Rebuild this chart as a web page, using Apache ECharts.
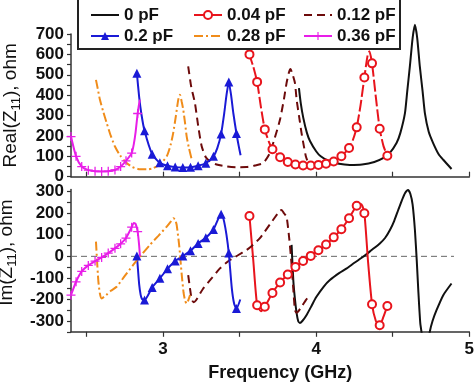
<!DOCTYPE html>
<html><head><meta charset="utf-8">
<script src="https://cdn.jsdelivr.net/npm/echarts@6/dist/echarts.min.js"></script>
<style>html,body{margin:0;padding:0;background:#fff}#c{width:474px;height:383px}</style>
</head><body><div id="c"></div>
<script>
const FONT = '"Liberation Sans", Arial, sans-serif';

// ---- axis ticks / labels ----
const xTickValues = [2.5, 3, 3.5, 4, 4.5, 5];
const xLabelValues = [3, 4, 5];
const reTickValues = [0, 50, 100, 150, 200, 250, 300, 350, 400, 450, 500, 550, 600, 650, 700];
const reLabelValues = [0, 100, 200, 300, 400, 500, 600, 700];
const imTickValues = [-350, -300, -250, -200, -150, -100, -50, 0, 50, 100, 150, 200, 250, 300];
const imLabelValues = [-300, -200, -100, 0, 100, 200, 300];
const names = ['0 pF', '0.04 pF', '0.12 pF', '0.2 pF', '0.28 pF', '0.36 pF'];

// ---- 0 pF ----
const f0Re = [3.888, 3.90, 3.916, 3.94, 3.96, 4.00, 4.03, 4.08, 4.15, 4.22, 4.30, 4.38, 4.44, 4.48, 4.525, 4.55, 4.58, 4.595, 4.612, 4.63, 4.645, 4.66, 4.677, 4.695, 4.71, 4.735, 4.764, 4.80, 4.83, 4.884];
const re0 = [435, 360, 290, 215, 175, 125, 100, 78, 63, 58, 60, 72, 92, 116, 165, 215, 312, 420, 541, 680, 745, 680, 541, 420, 312, 220, 165, 110, 83, 38];
const f0Im = [3.84, 3.851, 3.862, 3.873, 3.883, 3.894, 3.91, 3.937, 3.97, 4.00, 4.05, 4.09, 4.15, 4.20, 4.25, 4.307, 4.36, 4.416, 4.45, 4.482, 4.51, 4.536, 4.56, 4.58, 4.60, 4.615, 4.63, 4.645, 4.657, 4.667, 4.68, 4.69, 4.70, 4.715, 4.73, 4.742, 4.76, 4.786, 4.83, 4.884];
const im0 = [53, -110, -200, -265, -300, -309, -300, -273, -230, -190, -140, -110, -78, -56, -30, -2, 28, 60, 85, 122, 165, 215, 260, 293, 308, 290, 240, 122, -20, -157, -310, -360, -420, -450, -410, -350, -300, -250, -180, -126];

// ---- 0.04 pF ----
const f04Re = [3.555, 3.565, 3.59, 3.615, 3.64, 3.665, 3.69, 3.715, 3.765, 3.815, 3.865, 3.915, 3.965, 4.015, 4.065, 4.115, 4.165, 4.215, 4.24, 4.265, 4.29, 4.315, 4.335, 4.348, 4.365, 4.39, 4.415, 4.44, 4.465];
const re04 = [680, 600, 540, 465, 340, 232, 175, 135, 95, 72, 60, 55, 55, 58, 64, 75, 100, 141, 180, 242, 350, 487, 590, 615, 556, 390, 235, 150, 103];
const f04Im = [3.565, 3.59, 3.615, 3.64, 3.665, 3.715, 3.765, 3.815, 3.865, 3.915, 3.965, 4.015, 4.065, 4.115, 4.165, 4.215, 4.265, 4.295, 4.315, 4.34, 4.365, 4.39, 4.415, 4.44, 4.465];
const im04 = [187, -20, -227, -255, -234, -170, -121, -84, -49, -22, 2, 28, 55, 88, 126, 177, 235, 242, 200, -33, -222, -300, -320, -280, -230];
const marks04 = [3.565, 3.615, 3.665, 3.715, 3.765, 3.815, 3.865, 3.915, 3.965, 4.015, 4.065, 4.115, 4.165, 4.215, 4.265, 4.315, 4.365, 4.415, 4.465];

// ---- 0.12 pF ----
const f12Re = [3.165, 3.185, 3.209, 3.23, 3.253, 3.28, 3.307, 3.35, 3.416, 3.48, 3.546, 3.60, 3.655, 3.698, 3.73, 3.764, 3.79, 3.807, 3.822, 3.833, 3.845, 3.862, 3.873, 3.89, 3.905, 3.92, 3.933, 3.942];
const re12 = [541, 440, 361, 250, 149, 95, 75, 60, 50, 46, 47, 55, 67, 116, 190, 279, 380, 459, 510, 528, 505, 459, 377, 290, 214, 150, 100, 80];
const f12Im = [3.165, 3.177, 3.188, 3.20, 3.215, 3.263, 3.32, 3.372, 3.437, 3.49, 3.546, 3.59, 3.633, 3.70, 3.764, 3.775, 3.79, 3.807, 3.825, 3.84, 3.852, 3.862, 3.873, 3.905, 3.933, 3.942];
const im12 = [-87, -150, -200, -213, -205, -149, -100, -56, -17, 5, 29, 55, 84, 150, 212, 215, 200, 184, 80, -40, -160, -250, -262, -234, -203, -195];

// ---- 0.2 pF ----
const f2Re = [2.83, 2.845, 2.86, 2.88, 2.93, 2.98, 3.03, 3.08, 3.13, 3.18, 3.23, 3.28, 3.33, 3.355, 3.38, 3.40, 3.415, 3.43, 3.445, 3.46, 3.48, 3.495, 3.507];
const re2 = [508, 390, 305, 225, 110, 68, 54, 47, 45, 46, 54, 66, 100, 140, 210, 310, 400, 465, 400, 310, 212, 150, 105];
const f2Im = [2.83, 2.835, 2.845, 2.855, 2.865, 2.88, 2.93, 2.98, 3.03, 3.08, 3.13, 3.18, 3.23, 3.28, 3.33, 3.38, 3.39, 3.40, 3.415, 3.43, 3.45, 3.465, 3.48, 3.505];
const im2 = [2, -40, -130, -180, -200, -203, -144, -102, -58, -22, 1, 26, 60, 86, 125, 195, 185, 160, 100, 15, -150, -220, -242, -200];
const marks2 = [2.83, 2.88, 2.93, 2.98, 3.03, 3.08, 3.13, 3.18, 3.23, 3.28, 3.33, 3.38, 3.43, 3.48];

// ---- 0.28 pF ----
const f28Re = [2.563, 2.575, 2.589, 2.61, 2.633, 2.66, 2.687, 2.72, 2.763, 2.80, 2.85, 2.90, 2.937, 2.98, 3.025, 3.05, 3.067, 3.085, 3.10, 3.111, 3.122, 3.133, 3.145, 3.155, 3.17, 3.188];
const re28 = [475, 430, 377, 320, 263, 200, 148, 105, 67, 48, 36, 36, 42, 60, 100, 155, 214, 300, 377, 402, 370, 328, 260, 198, 140, 85];
const f28Im = [2.563, 2.57, 2.578, 2.588, 2.60, 2.63, 2.66, 2.698, 2.75, 2.806, 2.86, 2.915, 2.97, 3.025, 3.05, 3.068, 3.08, 3.09, 3.107, 3.122, 3.135, 3.144, 3.155, 3.165, 3.177];
const im28 = [68, -20, -110, -170, -195, -180, -160, -141, -92, -40, 7, 53, 95, 138, 160, 177, 170, 145, 45, -79, -170, -203, -219, -205, -180];

// ---- 0.36 pF ----
const f36 = [2.40, 2.433, 2.47, 2.513, 2.557, 2.60, 2.643, 2.687, 2.724, 2.759, 2.796, 2.81, 2.822, 2.835, 2.845, 2.85];
const re36 = [197, 100, 50, 32, 27, 26, 27, 33, 50, 78, 116, 160, 220, 310, 360, 378];
const im36 = [-180, -118, -70, -42, -22, -5, 15, 37, 58, 85, 135, 155, 150, 115, 50, 0];
const marks36 = [2.40, 2.433, 2.47, 2.513, 2.557, 2.60, 2.643, 2.687, 2.724, 2.759, 2.796, 2.835];

// zero reference line (bottom panel)
const zeroF = [2.4, 4.9];
const zeroV = [0, 0];

const COL = {
  '0 pF': '#111111', '0.04 pF': '#e8141c', '0.12 pF': '#6d0b0b',
  '0.2 pF': '#1a1ad6', '0.28 pF': '#f08c1a', '0.36 pF': '#e81ee8'
};
const PLUS = 'path://M-0.7,-5H0.7V-0.7H5V0.7H0.7V5H-0.7V0.7H-5V-0.7H-0.7Z';

function pts(fs, vs, marks) {
  return fs.map((f, i) => {
    const isMark = marks && marks.some(m => Math.abs(m - f) < 1e-9);
    return isMark ? { value: [f, vs[i]] } : { value: [f, vs[i]], symbol: 'none' };
  });
}
function mk(name, grid, fs, vs, opts) {
  opts = opts || {};
  return {
    type: 'line', name: name, xAxisIndex: grid, yAxisIndex: grid,
    data: pts(fs, vs, opts.marks),
    color: COL[name],
    smooth: 0.2,
    symbol: opts.symbol || 'none',
    symbolSize: opts.size || 8,
    showSymbol: true, showAllSymbol: true,
    lineStyle: { width: 2, type: opts.type || 'solid', color: COL[name] },
    itemStyle: { color: COL[name], borderWidth: opts.bw || 1 },
    clip: opts.clip !== undefined ? opts.clip : true,
    emphasis: { disabled: true },
    animation: false, z: 2
  };
}

const series = [
  mk('0 pF', 1, f0Im, im0),
  mk('0.04 pF', 1, f04Im, im04, { symbol: 'emptyCircle', marks: marks04, size: 8, bw: 1.2 }),
  mk('0.12 pF', 1, f12Im, im12, { type: [8, 5] }),
  mk('0.2 pF', 1, f2Im, im2, { symbol: 'triangle', marks: marks2, size: 9 }),
  mk('0.28 pF', 1, f28Im, im28, { type: [9, 3, 2, 3] }),
  mk('0.36 pF', 1, f36, im36, { symbol: PLUS, marks: marks36, size: 9 }),
  mk('0 pF', 0, f0Re, re0, { clip: false }),
  mk('0.04 pF', 0, f04Re, re04, { symbol: 'emptyCircle', marks: marks04, size: 8, bw: 1.2, type: [12, 3], clip: false }),
  mk('0.12 pF', 0, f12Re, re12, { type: [8, 5] }),
  mk('0.2 pF', 0, f2Re, re2, { symbol: 'triangle', marks: marks2, size: 9 }),
  mk('0.28 pF', 0, f28Re, re28, { type: [9, 3, 2, 3] }),
  mk('0.36 pF', 0, f36, re36, { symbol: PLUS, marks: marks36, size: 9 }),
  {
    type: 'line', name: 'zero', xAxisIndex: 1, yAxisIndex: 1,
    data: zeroF.map((f, i) => [f, zeroV[i]]), symbol: 'none', silent: true,
    lineStyle: { color: '#666', width: 1, type: [6, 4] }, z: 1, animation: false
  }
];

const axisLineStyle = { color: '#333', width: 1.5 };
function xAx(grid, bottomPanel) {
  return {
    type: 'value', gridIndex: grid, min: 2.4, max: 5,
    axisLine: { show: true, onZero: false, lineStyle: axisLineStyle },
    axisTick: { show: true, inside: !bottomPanel, length: 5, customValues: xTickValues, lineStyle: { color: '#333', width: 1.2 } },
    axisLabel: bottomPanel ? { show: true, customValues: xLabelValues, margin: 9, fontFamily: FONT, fontSize: 17, fontWeight: 'bold', color: '#111' } : { show: false },
    splitLine: { show: false },
    name: bottomPanel ? 'Frequency (GHz)' : '',
    nameLocation: 'middle', nameGap: 32,
    nameTextStyle: { fontFamily: FONT, fontSize: 18, fontWeight: 'bold', color: '#111', padding: [0, 0, 0, 20] }
  };
}
function yAx(grid, min, max, ticks, labels, name, shift) {
  return {
    type: 'value', gridIndex: grid, min: min, max: max,
    axisLine: { show: true, onZero: false, lineStyle: axisLineStyle },
    axisTick: { show: true, inside: false, length: 4, customValues: ticks, lineStyle: { color: '#333', width: 1.2 } },
    axisLabel: { show: true, customValues: labels, margin: 7, fontFamily: FONT, fontSize: 17, fontWeight: 'bold', color: '#111' },
    splitLine: { show: false },
    name: name, nameLocation: 'middle', nameRotate: 90, nameGap: 48,
    nameTextStyle: {
      color: '#111',
      padding: [0, 0, 0, shift],
      rich: {
        a: { fontFamily: FONT, fontSize: 19, color: '#111', lineHeight: 25 },
        s: { fontFamily: FONT, fontSize: 13, color: '#111', lineHeight: 25, padding: [11, 0, 0, 0] }
      }
    }
  };
}

function legendCol(left, items) {
  return {
    orient: 'vertical', left: left, top: 5, padding: 0, itemGap: 1,
    itemWidth: 28, itemHeight: 10, z: 20, selectedMode: false,
    textStyle: { fontFamily: FONT, fontSize: 17, fontWeight: 'bold', color: '#111', lineHeight: 20 },
    data: items.map(n => {
      const noMark = (n === '0 pF' || n === '0.12 pF' || n === '0.28 pF');
      return noMark ? { name: n, itemStyle: { opacity: 0 } } : { name: n };
    })
  };
}

const chart = echarts.init(document.getElementById('c'), null, { renderer: 'canvas' });
chart.setOption({
  animation: false,
  backgroundColor: '#fff',
  grid: [
    { left: 71, right: 4.7, top: 34, bottom: 206.3, containLabel: false, outerBoundsMode: 'none' },
    { left: 71, right: 4.7, top: 189.5, bottom: 51.2, containLabel: false, outerBoundsMode: 'none' }
  ],
  xAxis: [xAx(0, false), xAx(1, true)],
  yAxis: [
    yAx(0, 0, 700, reTickValues, reLabelValues, '{a|Real(Z}{s|11}{a|), ohm}', 0),
    yAx(1, -350, 310, imTickValues, imLabelValues, '{a|Im(Z}{s|11}{a|), ohm}', 16)
  ],
  legend: [
    legendCol(90, [names[0], names[3]]),
    legendCol(193, [names[1], names[4]]),
    legendCol(303, [names[2], names[5]])
  ],
  graphic: [{
    type: 'rect', z: 10, zlevel: 0,
    shape: { x: 78, y: -2, width: 322, height: 51 },
    style: { fill: '#fff', stroke: '#222', lineWidth: 2 }
  }],
  series: series
});
</script>
</body></html>
